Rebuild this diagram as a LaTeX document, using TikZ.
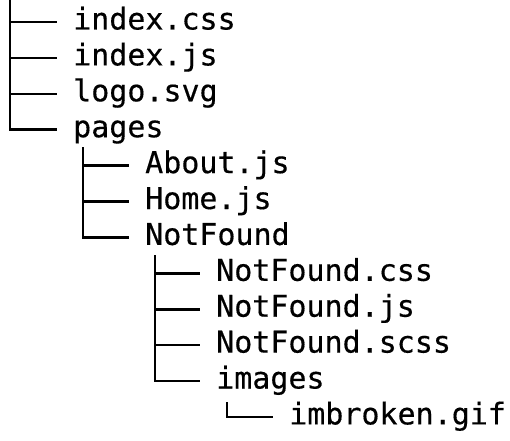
\documentclass[tikz,border=0pt]{standalone}
\usepackage{fontspec}
\newfontfamily\treefont[FakeBold=0.4]{DejaVu Sans Mono}
\begin{document}
\begin{tikzpicture}[x=1pt,y=1pt,
  item/.style={anchor=west, inner sep=0pt, text height=22pt, text depth=7pt,
    font=\treefont\fontsize{30}{30}\selectfont},
  branch/.style={line width=2.6pt, shorten >=16pt}]
\useasboundingbox (0,0) rectangle (510,440);
% entries
\node[item] (n0)  at (73,418.0) {index.css};
\node[item] (n1)  at (73,382.1) {index.js};
\node[item] (n2)  at (73,346.2) {logo.svg};
\node[item] (n3)  at (73,310.3) {pages};
\node[item] (n4)  at (145,274.4) {About.js};
\node[item] (n5)  at (145,238.5) {Home.js};
\node[item] (n6)  at (145,202.6) {NotFound};
\node[item] (n7)  at (216,166.7) {NotFound.css};
\node[item] (n8)  at (216,130.8) {NotFound.js};
\node[item] (n9)  at (216,94.9) {NotFound.scss};
\node[item] (n10) at (216,59.0) {images};
\node[item] (n11) at (289,23.1) {imbroken.gif};
% branch origins
\coordinate (r0) at (10,440);
\coordinate (r1) at (83,293);
\coordinate (r2) at (155,185);
\coordinate (r3) at (227,38);
% connectors
\foreach \c in {n0,n1,n2,n3} \draw[branch] (r0) |- (\c.west);
\foreach \c in {n4,n5,n6} \draw[branch] (r1) |- (\c.west);
\foreach \c in {n7,n8,n9,n10} \draw[branch] (r2) |- (\c.west);
\draw[branch] (r3) |- (n11.west);
\end{tikzpicture}
\end{document}
